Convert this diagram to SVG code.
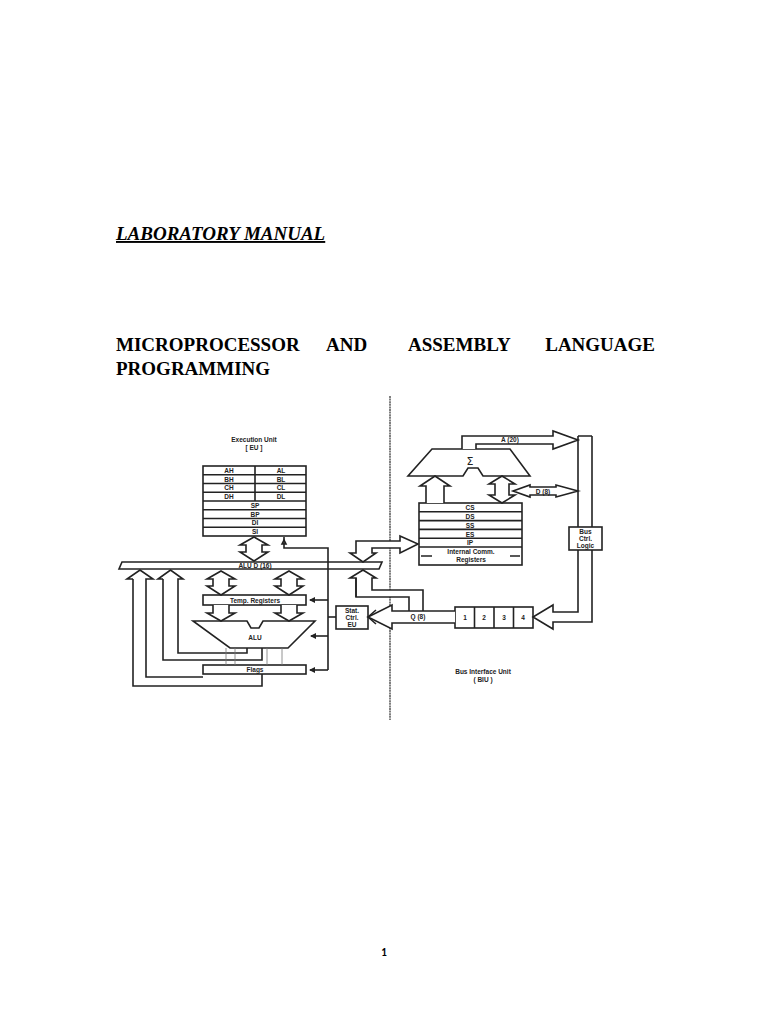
<svg xmlns="http://www.w3.org/2000/svg" width="768" height="1024" viewBox="0 0 768 1024">
<style>
.t{font-family:"Liberation Serif",serif;font-weight:bold;font-size:19px;fill:#000}
.d{font-family:"Liberation Sans",Arial,sans-serif;font-weight:bold;font-size:6.5px;fill:#222;text-anchor:middle}
.s{fill:#fff;stroke:#222;stroke-width:1.6}
.l{fill:none;stroke:#222;stroke-width:1.6}
.th{fill:none;stroke:#777;stroke-width:0.8}
</style>
<defs>
<marker id="ah" markerWidth="6" markerHeight="6" refX="5" refY="3" orient="auto" markerUnits="userSpaceOnUse"><path d="M0,0L6,3L0,6z" fill="#222"/></marker>
</defs>
<rect width="768" height="1024" fill="#fff"/>
<text class="t" x="116" y="240" font-style="italic" font-size="22" text-decoration="underline">LABORATORY MANUAL</text>
<text class="t" x="116" y="351">MICROPROCESSOR</text>
<text class="t" x="326" y="351">AND</text>
<text class="t" x="408" y="351">ASSEMBLY</text>
<text class="t" x="655" y="351" text-anchor="end">LANGUAGE</text>
<text class="t" x="116" y="375">PROGRAMMING</text>
<text x="384" y="956" font-family="Calibri,'Liberation Sans',sans-serif" font-size="11" font-weight="bold" text-anchor="middle">1</text>

<line x1="390" y1="396" x2="390" y2="720" stroke="#555" stroke-width="1.5" stroke-dasharray="2,0.6"/>

<g id="eu-label"><text class="d" x="254" y="442">Execution Unit</text><text class="d" x="254" y="450">[ EU ]</text></g>

<g id="gp-regs">
<rect class="s" x="203" y="466" width="103" height="70"/>
<g class="l"><path d="M203,474.75H306M203,483.5H306M203,492.25H306M203,501H306M203,509.75H306M203,518.5H306M203,527.25H306M255,466V501"/></g>
<text class="d" x="229" y="472.5">AH</text><text class="d" x="281" y="472.5">AL</text>
<text class="d" x="229" y="481.5">BH</text><text class="d" x="281" y="481.5">BL</text>
<text class="d" x="229" y="490">CH</text><text class="d" x="281" y="490">CL</text>
<text class="d" x="229" y="499">DH</text><text class="d" x="281" y="499">DL</text>
<text class="d" x="255" y="507.5">SP</text><text class="d" x="255" y="516.5">BP</text>
<text class="d" x="255" y="525">DI</text><text class="d" x="255" y="534">SI</text>
</g>

<g id="alu-bus">
<path class="s" d="M122,562H382L379,569H119Z"/>
<text class="d" x="255" y="568">ALU  D (16)</text>
</g>

<g id="temp-regs"><rect class="s" x="203" y="595" width="103" height="10"/><text class="d" x="255" y="602.5">Temp. Registers</text></g>
<g id="alu"><path class="s" d="M193,621H247L251,628H259L263,621H315L288,648H230Z"/><text class="d" x="255" y="640">ALU</text></g>
<g id="flags"><rect class="s" x="203" y="665" width="103" height="9"/><text class="d" x="255" y="672">Flags</text></g>
<g id="stat-ctrl"><rect class="s" x="336" y="606" width="32" height="23"/><text class="d" x="352" y="613">Stat.</text><text class="d" x="352" y="620">Ctrl.</text><text class="d" x="352" y="627">EU</text></g>

<g id="sigma"><path class="s" d="M432,449H510L530,476H483L478,468H468L463,476H408Z"/><text x="470" y="465" font-family="DejaVu Sans,sans-serif" font-size="11" text-anchor="middle" fill="#222">Σ</text></g>

<g id="seg-regs">
<rect class="s" x="419" y="503" width="103" height="62"/>
<path class="l" d="M419,511.8H522M419,520.6H522M419,529.4H522M419,538.2H522M419,547H522"/>
<path class="l" d="M421,556H432M510,556H520"/>
<text class="d" x="470" y="510">CS</text><text class="d" x="470" y="519">DS</text><text class="d" x="470" y="527.5">SS</text>
<text class="d" x="470" y="536.5">ES</text><text class="d" x="470" y="545">IP</text>
<text class="d" x="471" y="554">Internal Comm.</text><text class="d" x="471" y="562">Registers</text>
</g>

<g id="bus-ctrl"><rect class="s" x="569" y="527" width="33" height="23"/><text class="d" x="585.5" y="534">Bus</text><text class="d" x="585.5" y="541">Ctrl.</text><text class="d" x="585.5" y="548">Logic</text></g>

<g id="queue"><rect class="s" x="455" y="607" width="78" height="21"/><path class="l" d="M474.5,607V628M494,607V628M513.5,607V628"/>
<text class="d" x="465" y="620">1</text><text class="d" x="484" y="620">2</text><text class="d" x="504" y="620">3</text><text class="d" x="523" y="620">4</text></g>

<g id="biu-label"><text class="d" x="483" y="674">Bus Interface Unit</text><text class="d" x="483" y="682">( BIU )</text></g>

<g id="connectors">
<path class="s" d="M254,537L268,545H262V552H268L254,561L240,552H246V545H240Z"/>
<path class="s" d="M221,571L235,579H229V586H235L221,595L207,586H213V579H207Z"/>
<path class="s" d="M289,571L303,579H297V586H303L289,595L275,586H281V579H275Z"/>
<path class="s" d="M213,605V613H207L221,621L235,613H229V605"/>
<path class="s" d="M281,605V613H275L289,621L303,613H297V605"/>
<path class="l" d="M133,579H127L140,570L153,579H146V677H203M133,579V686H262V674"/>
<path class="l" d="M163,579H158L170.5,570L183,579H178V653H247V648M163,579V660H262V648"/>
<path class="th" d="M226,648V665M235,648V665M267,648V665M282,648V665"/>
<path class="l" d="M284,537V548H328V670"/>
<path class="l" d="M284,540L282,544H286Z" fill="#222"/>
<path class="l" d="M328,600H310" marker-end="url(#ah)"/>
<path class="l" d="M328,636H311" marker-end="url(#ah)"/>
<path class="l" d="M328,670H310" marker-end="url(#ah)"/>
<path class="l" d="M336,617H328"/>
<path class="s" d="M356,553H350L363,562L376,553H372V548H400V553L418,544L400,536V541H356Z"/>
<path class="s" d="M350,578L363,570L376,578H372V590H423V612H409V597H356V578Z"/>
<path class="l" d="M356,578V597"/>
<path class="s" d="M455,611H392V605L368,617L392,629V623H455"/>
<text class="d" x="418" y="619">Q (8)</text>
<path class="l" d="M368,617L376,610M368,617L376,624"/>
<path class="l" d="M578,436V527M592,436V527M578,436H592M578,550V612H553V605L533,617L553,629V622H592V550"/>
<path class="s" d="M462,449V436H553V431L578,440L553,449V444H476V449"/>
<text class="d" x="510" y="442">A (20)</text>
<path class="s" d="M513,491L530,485V487H556V485L578,491L556,497V495H530V497Z"/>
<text class="d" x="543" y="493.5">D (8)</text>
<path class="s" d="M426,503V486H420L435,476L450,486H444V503"/>
<path class="s" d="M502,476L515,484H509V495H515L502,503L489,495H495V484H489Z"/>
</g>
</svg>
